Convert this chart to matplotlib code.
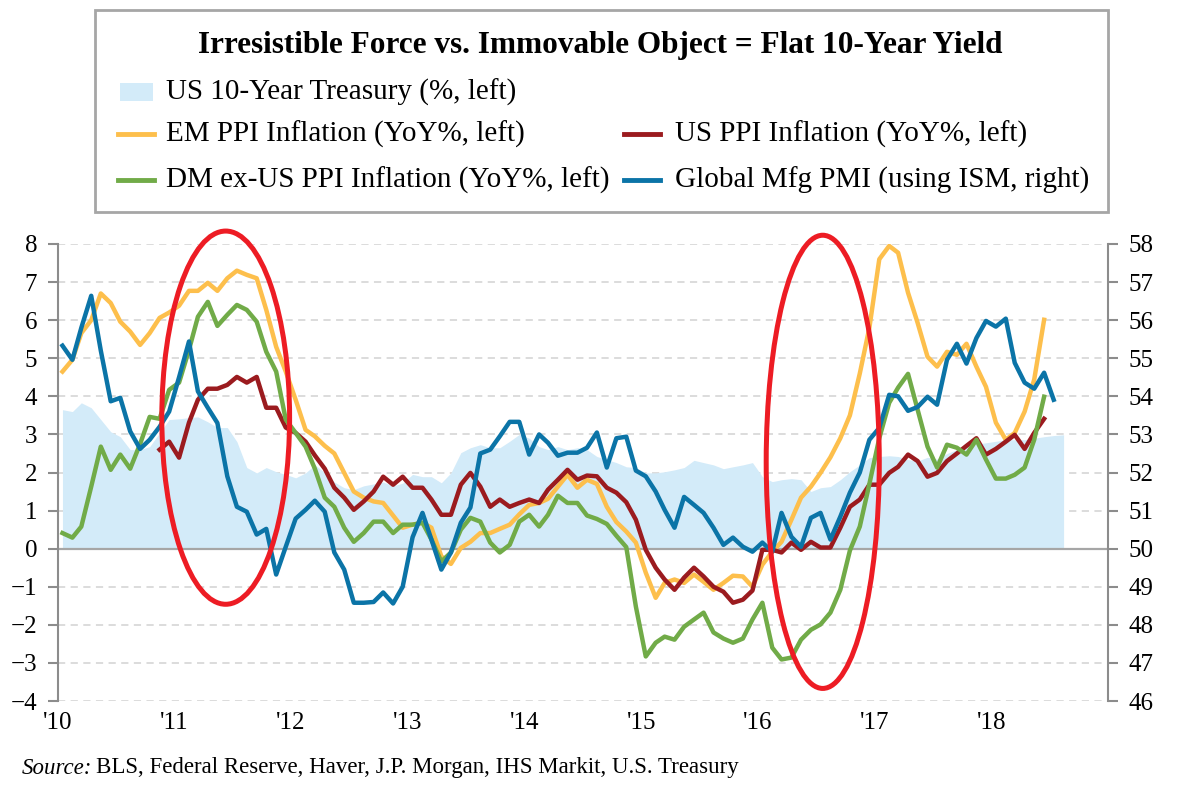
import matplotlib
matplotlib.use('Agg')
import matplotlib.pyplot as plt
import matplotlib.dates as mdates
from matplotlib.patches import Ellipse, Rectangle
from matplotlib.lines import Line2D
import numpy as np
import pandas as pd

plt.rcParams['font.family'] = ['Liberation Serif', 'DejaVu Serif']

# monthly data, first month Jan 2010
treasury = [3.65, 3.6, 3.83, 3.7, 3.39, 3.07, 2.94, 2.6, 2.6, 2.68, 3.04, 3.39,
            3.41, 3.44, 3.46, 3.33, 3.18, 3.18, 2.81, 2.13, 1.99, 2.13, 2.02, 1.95,
            1.86, 1.99, 2.2, 2.0, 1.75, 1.6, 1.55, 1.65, 1.7, 1.75, 1.65, 1.72,
            1.95, 1.89, 1.89, 1.73, 1.99, 2.52, 2.65, 2.73, 2.65, 2.65, 2.82, 3.0,
            2.9, 2.68, 2.6, 2.68, 2.6, 2.65, 2.6, 2.42, 2.34, 2.26, 2.15, 2.13,
            1.99, 1.99, 2.02, 2.07, 2.13, 2.32, 2.26, 2.2, 2.1, 2.15, 2.2, 2.26,
            1.89, 1.76, 1.81, 1.84, 1.81, 1.5, 1.6, 1.63, 1.81, 2.02, 2.2, 2.39,
            2.42, 2.44, 2.42, 2.34, 2.3, 2.4, 2.35, 2.5, 2.6, 2.7, 2.75, 2.78,
            2.82, 2.86, 2.86, 2.86, 2.9, 2.94, 2.97, 2.99]

em_ppi = [4.65, 4.96, 5.66, 6.0, 6.7, 6.45, 5.96, 5.7, 5.35, 5.66, 6.06, 6.2,
          6.38, 6.77, 6.77, 6.98, 6.77, 7.1, 7.3, 7.19, 7.1, 6.27, 5.3, 4.65,
          3.91, 3.12, 2.95, 2.7, 2.5, 1.99, 1.5, 1.34, 1.24, 1.2, 0.87, 0.55,
          0.63, 0.68, 0.55, -0.2, -0.4, 0.02, 0.18, 0.41, 0.41, 0.52, 0.63, 0.9,
          1.15, 1.2, 1.31, 1.63, 1.94, 1.6, 1.81, 1.7, 1.1, 0.7, 0.45, 0.16,
          -0.63, -1.29, -0.9, -0.81, -0.9, -0.68, -0.87, -1.08, -0.9, -0.71, -0.73, -1.0,
          -0.42, -0.08, 0.18, 0.76, 1.34, 1.63, 1.99, 2.4, 2.9, 3.5, 4.6, 5.8,
          7.6, 7.95, 7.77, 6.72, 5.93, 5.04, 4.78, 5.17, 5.09, 5.38, 4.78, 4.25,
          3.31, 2.86, 3.04, 3.6, 4.44, 6.01]

# US PPI starts Nov 2010
us_ppi = [2.6, 2.81,
          2.39, 3.31, 3.91, 4.2, 4.2, 4.3, 4.51, 4.36, 4.51, 3.7, 3.7, 3.18,
          3.04, 2.81, 2.45, 2.1, 1.6, 1.34, 1.02, 1.24, 1.5, 1.89, 1.68, 1.89,
          1.6, 1.6, 1.29, 0.89, 0.89, 1.68, 1.99, 1.63, 1.1, 1.29, 1.1, 1.2,
          1.29, 1.2, 1.55, 1.81, 2.07, 1.81, 1.92, 1.9, 1.6, 1.47, 1.22, 0.76,
          -0.03, -0.5, -0.81, -1.08, -0.76, -0.5, -0.73, -1.0, -1.13, -1.42, -1.34, -1.1,
          -0.03, -0.03, -0.1, 0.16, -0.03, 0.18, 0.03, 0.03, 0.55, 1.1, 1.29, 1.68,
          1.68, 1.99, 2.15, 2.47, 2.3, 1.89, 1.99, 2.3, 2.5, 2.7, 2.9, 2.47,
          2.62, 2.81, 2.99, 2.62, 3.04, 3.41]

dm_ppi = [0.41, 0.29, 0.58, 1.63, 2.68, 2.07, 2.47, 2.1, 2.75, 3.46, 3.41, 4.17,
          4.36, 5.22, 6.09, 6.48, 5.85, 6.14, 6.4, 6.27, 5.96, 5.17, 4.65, 3.39,
          3.04, 2.68, 2.1, 1.34, 1.1, 0.55, 0.18, 0.41, 0.71, 0.71, 0.41, 0.63,
          0.63, 0.68, 0.24, -0.34, -0.1, 0.5, 0.81, 0.71, 0.16, -0.1, 0.1, 0.71,
          0.89, 0.58, 0.89, 1.39, 1.2, 1.2, 0.87, 0.78, 0.65, 0.34, 0.04, -1.52,
          -2.83, -2.47, -2.31, -2.39, -2.05, -1.86, -1.68, -2.2, -2.36, -2.47, -2.36, -1.86,
          -1.42, -2.6, -2.91, -2.86, -2.39, -2.13, -1.99, -1.68, -1.08, -0.05, 0.58, 1.7,
          2.9, 3.83, 4.23, 4.59, 3.65, 2.68, 2.13, 2.73, 2.65, 2.47, 2.86, 2.34,
          1.84, 1.84, 1.94, 2.13, 2.86, 3.99]

pmi = [55.33, 54.96, 55.8, 56.64, 55.2, 53.87, 53.96, 53.08, 52.62, 52.86, 53.2, 53.6,
       54.5, 55.44, 54.13, 53.7, 53.3, 51.9, 51.1, 50.97, 50.37, 50.52, 49.32, 50.05,
       50.79, 51.02, 51.26, 50.97, 49.9, 49.45, 48.58, 48.58, 48.6, 48.85, 48.56, 49.0,
       50.3, 50.94, 50.24, 49.45, 49.9, 50.68, 51.08, 52.5, 52.6, 52.95, 53.33, 53.33,
       52.47, 53.0, 52.78, 52.44, 52.52, 52.52, 52.65, 53.05, 52.13, 52.9, 52.94, 52.05,
       51.9, 51.5, 51.02, 50.55, 51.36, 51.15, 50.94, 50.55, 50.1, 50.29, 50.05, 49.92,
       50.16, 49.92, 50.94, 50.31, 50.05, 50.81, 50.94, 50.24, 50.84, 51.47, 52.0, 52.86,
       53.17, 54.04, 54.0, 53.62, 53.72, 53.99, 53.78, 54.96, 55.38, 54.86, 55.53, 55.98,
       55.83, 56.04, 54.88, 54.36, 54.2, 54.62, 53.91]

years = list(range(2010, 2019))
year_labels = ["'10", "'11", "'12", "'13", "'14", "'15", "'16", "'17", "'18"]

# highlighted periods: (center date, center value, width days, height)
circles = [('2011-06-10', 3.44, 400, 9.8),
           ('2016-07-22', 2.28, 354, 11.9)]


def months(start, n):
    return pd.date_range(start, periods=n, freq='MS') + pd.Timedelta(days=14)


c_area = '#d3ebf9'
c_em = '#fdbf4c'
c_us = '#9b1b1f'
c_dm = '#71ab48'
c_pmi = '#0b74a7'
c_circle = '#ed1c24'

fig = plt.figure(figsize=(12, 7.9), dpi=100)
ax = fig.add_axes([58 / 1200, 1 - 701 / 790, 1050 / 1200, 457 / 790])
ax2 = ax.twinx()

x_t = months('2010-01-01', len(treasury))
ax.fill_between(x_t, 0, treasury, color=c_area, lw=0, zorder=1)
ax.axhline(0, color='#a6a6a6', lw=1.6, zorder=2)
ax.plot(months('2010-01-01', len(em_ppi)), em_ppi, color=c_em, lw=3.2, zorder=3)
ax.plot(months('2010-11-01', len(us_ppi)), us_ppi, color=c_us, lw=3.2, zorder=4)
ax.plot(months('2010-01-01', len(dm_ppi)), dm_ppi, color=c_dm, lw=3.2, zorder=5)
ax2.plot(months('2010-01-01', len(pmi)), pmi, color=c_pmi, lw=3.2, zorder=6)

for d, yc, w, h in circles:
    e = Ellipse((mdates.date2num(pd.Timestamp(d)), yc), w, h, fill=False,
                edgecolor=c_circle, lw=3.6, transform=ax.transData, clip_on=False, zorder=10)
    ax2.add_patch(e)

ax.set_ylim(-4, 8)
ax2.set_ylim(46, 58)
ax.set_yticks(range(-4, 9))
ax2.set_yticks(range(46, 59))
ax.set_xlim(pd.Timestamp('2010-01-01'), pd.Timestamp('2019-01-01'))
ax.set_xticks([pd.Timestamp(f'{y}-01-01') for y in years])
ax.set_xticklabels(year_labels)

ax.yaxis.grid(True, color='#d9d9d9', lw=1.3, linestyle=(0, (4, 3)))
ax.set_axisbelow(True)

for a in (ax, ax2):
    a.spines['top'].set_visible(False)
    a.spines['bottom'].set_visible(False)
    a.spines['left'].set_color('#8c8c8c')
    a.spines['right'].set_color('#8c8c8c')
    a.spines['left'].set_linewidth(1.5)
    a.spines['right'].set_linewidth(1.5)
ax.spines['right'].set_visible(False)
ax2.spines['left'].set_visible(False)

ax.tick_params(axis='y', length=7, width=1.5, color='#8c8c8c', pad=8, labelsize=18)
ax2.tick_params(axis='y', length=7, width=1.5, color='#8c8c8c', pad=8, labelsize=18)
ax.tick_params(axis='x', length=0, pad=8, labelsize=18)

# legend box
fig.patches.append(Rectangle((95 / 1200, 1 - 212 / 790), 1013 / 1200, 202 / 790,
                             transform=fig.transFigure, fill=False,
                             edgecolor='#a6a6a6', lw=2))
fig.text(0.5, 1 - 45 / 790, 'Irresistible Force vs. Immovable Object = Flat 10-Year Yield',
         ha='center', va='center', fontsize=22.5, fontweight='bold')

fig.patches.append(Rectangle((120 / 1200, 1 - 101 / 790), 33 / 1200, 18 / 790,
                             transform=fig.transFigure, color=c_area, lw=0))
entries = [(92, 120, 166, None, 'US 10-Year Treasury (%, left)'),
           (134, 118, 166, c_em, 'EM PPI Inflation (YoY%, left)'),
           (134, 624, 675, c_us, 'US PPI Inflation (YoY%, left)'),
           (180, 118, 166, c_dm, 'DM ex-US PPI Inflation (YoY%, left)'),
           (180, 624, 675, c_pmi, 'Global Mfg PMI (using ISM, right)')]
for yp, xh, xt, col, label in entries:
    yf = 1 - yp / 790
    if col is not None:
        fig.lines.append(Line2D([xh / 1200, (xh + 36) / 1200], [yf, yf],
                                transform=fig.transFigure, color=col, lw=3.5))
    fig.text(xt / 1200, yf, label, ha='left', va='center', fontsize=21)

# source line
r = fig.canvas.get_renderer()
t = fig.text(22 / 1200, 1 - 768 / 790, 'Source:', ha='left', va='center',
             fontsize=16.5, style='italic')
bb = t.get_window_extent(renderer=r)
fig.text(bb.x1 / 1200 + 4 / 1200, 1 - 768 / 790,
         'BLS, Federal Reserve, Haver, J.P. Morgan, IHS Markit, U.S. Treasury',
         ha='left', va='center', fontsize=16.5)

fig.savefig('out.png', dpi=100)
